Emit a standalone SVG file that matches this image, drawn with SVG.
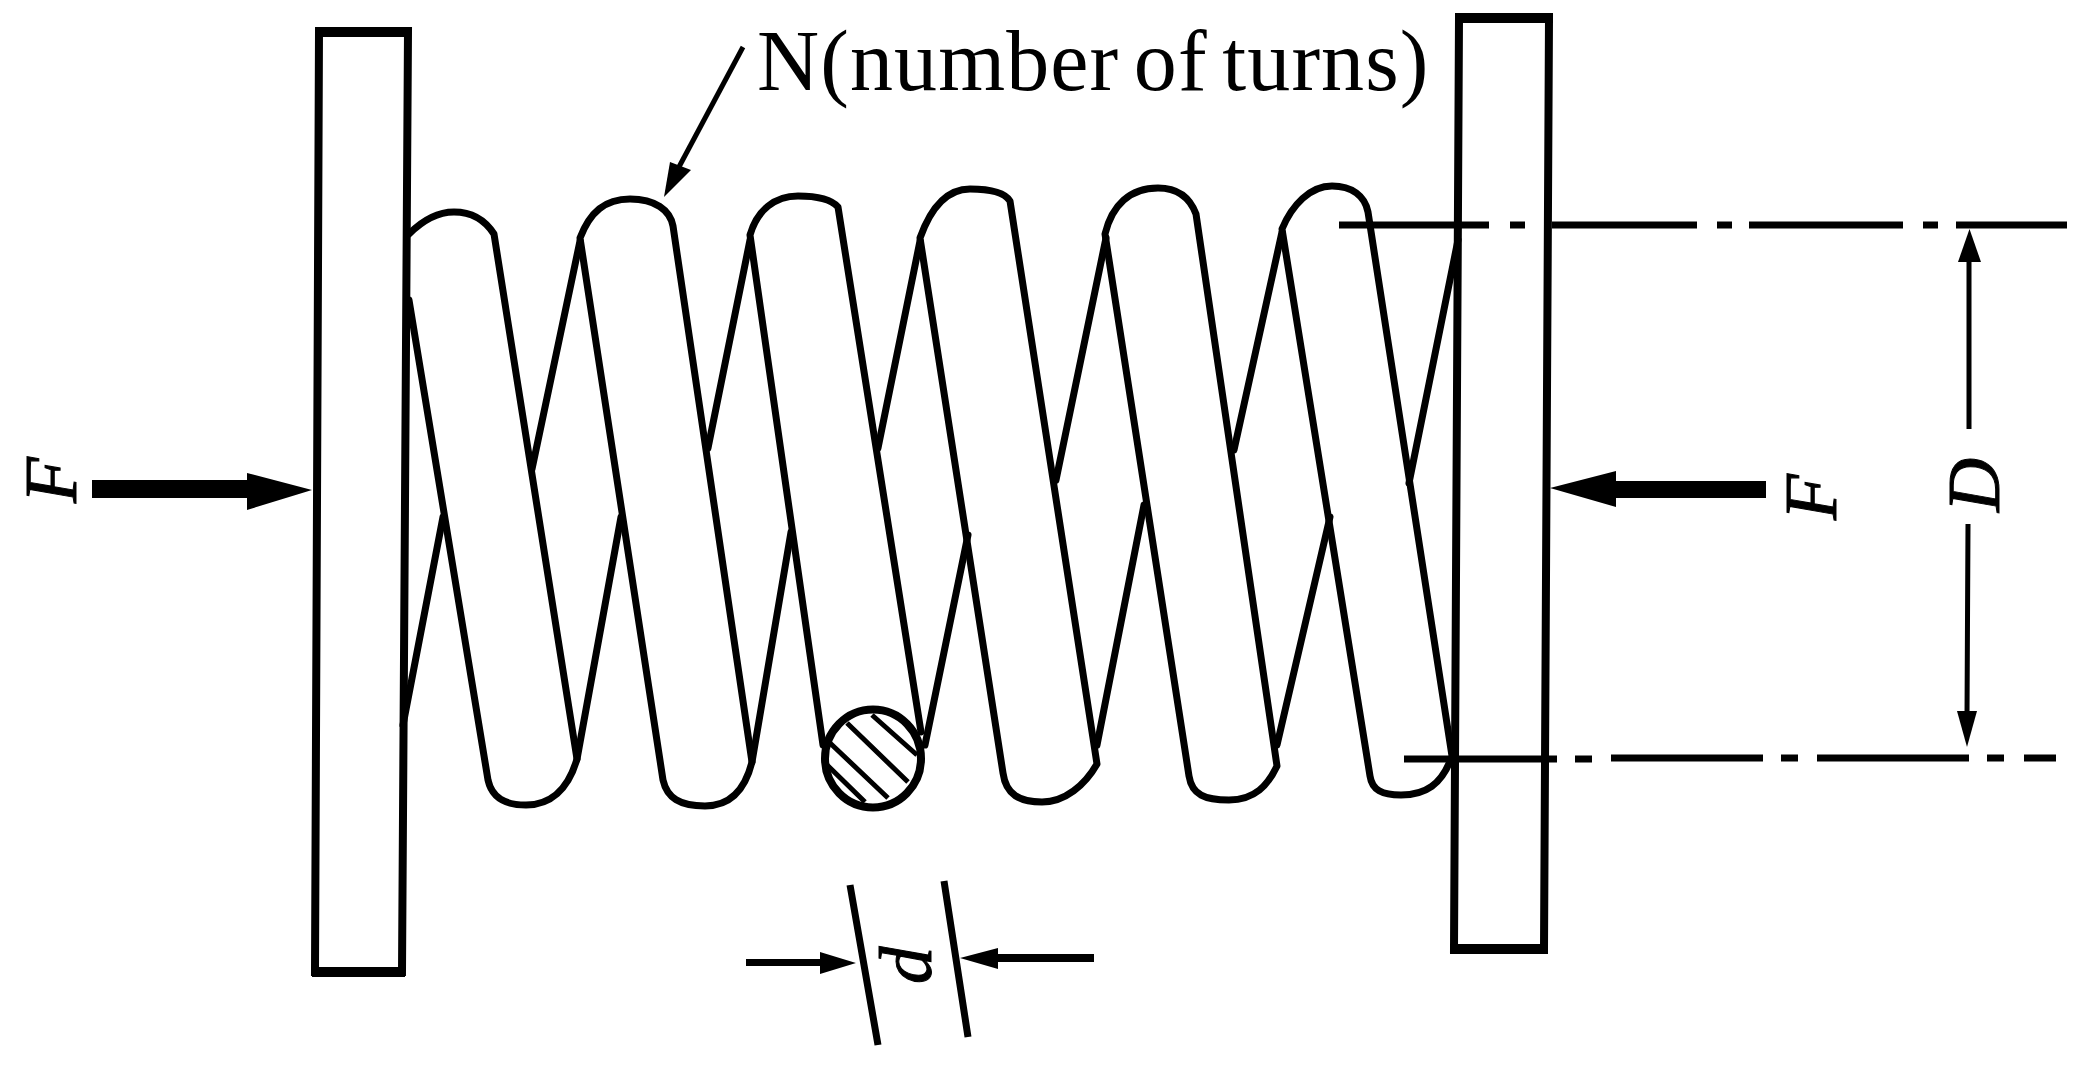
<svg xmlns="http://www.w3.org/2000/svg" width="2088" height="1077" viewBox="0 0 2088 1077">
<style>
.o{fill:none;stroke:#000;stroke-width:7;stroke-linejoin:round;stroke-linecap:round}
.p{fill:none;stroke:#000;stroke-width:8;stroke-linejoin:miter}
.band{fill:none;stroke:#000;stroke-width:10}
.c{fill:none;stroke:#000;stroke-width:7}
.thin{fill:none;stroke:#000;stroke-width:5}
.h{fill:none;stroke:#000;stroke-width:5}
.a{fill:#000;stroke:none}
.l{font-family:"Liberation Serif","Times New Roman",serif;fill:#000}
.i{font-style:italic;font-size:75px;stroke:#000;stroke-width:1}
</style>
<rect width="2088" height="1077" fill="#fff"/>
<g id="spring">
<g id="back-strands" class="o">
<path d="M580,241L532,469M750,240L708,448M920,241L878,448M1106,238L1056,480M1282,232L1234,450M1458,240L1409,483"/>
<path d="M403,725L443,517M577,759L621,517M752,762L791,532M925,745L968,535M1097,745L1144,505M1277,745L1330,517"/>
</g>
<g id="coils" class="o">
<path id="coil0" d="M409,234C425,218 440,212 454,212C472,212 485,220 494,234L577,759C568,790 550,805 526,805C505,805 492,798 488,780L409,300"/>
<path id="coil1" d="M580,238C590,212 605,199 630,199C655,199 670,210 673,226L752,762C745,790 730,806 705,806C680,806 667,798 663,780Z"/>
<path id="coil2" d="M823,745L750,235C757,210 775,196 798,196C815,196 830,198 838,207L921,732"/>
<path id="coil3" d="M920,238C930,210 945,189 970,189C990,189 1005,193 1010,201L1097,764C1085,785 1065,802 1042,802C1020,802 1006,795 1003,773Z"/>
<path id="coil4" d="M1105,234C1112,205 1130,188 1158,188C1178,188 1190,198 1196,214L1277,766C1268,785 1255,800 1229,800C1205,800 1192,795 1189,776Z"/>
<path id="coil5" d="M1282,229C1292,205 1310,186 1332,186C1352,186 1365,196 1368,212L1452,756C1442,785 1425,795 1401,795C1382,795 1372,790 1370,776Z"/>
</g>
</g>
<g id="section">
<ellipse cx="873" cy="758.5" rx="48" ry="49" fill="#fff" stroke="#000" stroke-width="8"/>
<path class="h" d="M872,715L917,755M847,723L908,782M830,743L888,798M825,763L865,802"/>
</g>
<g id="plate-left">
<path class="p" d="M319,31L408,31L402,972L315,972Z"/>
<path class="band" d="M316,32L411,32M312,972L405,972"/>
</g>
<g id="plate-right">
<path class="p" d="M1459,18L1549,18L1544,949L1454,949Z"/>
<path class="band" d="M1455,18L1553,18M1450,949L1548,949"/>
</g>
<g id="connectors">
<path class="c" d="M1339,225H1489M1510,225H1525M1552,225H1697M1717,225H1732M1749,225H1903M1923,225H1938M1956,225H2067"/>
<path class="c" d="M1404,759H1557M1575,759H1592M1611,758H1763M1781,758H1798M1817,758H1969M1987,758H2004M2024,758H2056"/>
<path class="thin" d="M1969,255V429M1968,524L1967,715"/>
<polygon class="a" points="1969.5,229 1981,262 1958,262"/>
<polygon class="a" points="1967,747 1957,711 1977,711"/>
<path class="thin" d="M743,47L672,180"/>
<polygon class="a" points="664,197 670,162 691,170"/>
<polygon class="a" points="92,480 247,480 247,473 312,490 247,510 247,498 92,498"/>
<polygon class="a" points="1766,481 1616,481 1616,471 1550,488 1616,507 1616,498 1766,498"/>
<path class="c" d="M850,885L878,1045M944,881L968,1037"/>
<polygon class="a" points="746,959 820,959 820,952 856,963 820,974 820,966 746,966"/>
<polygon class="a" points="1094,954 998,954 998,948 960,958 998,969 998,962 1094,962"/>
</g>
<g id="labels">
<text id="label-n" class="l" x="757" y="90" font-size="86" letter-spacing="1.1" word-spacing="-8">N(number of turns)</text>
<text id="label-f-left" class="l i" transform="translate(76,503) rotate(-90)">F</text>
<text id="label-f-right" class="l i" transform="translate(1836,520) rotate(-90)">F</text>
<text id="label-d-big" class="l i" transform="translate(1999,512) rotate(-90)">D</text>
<text id="label-d-small" class="l i" transform="translate(931,984) rotate(-90)">d</text>
</g>
</svg>
